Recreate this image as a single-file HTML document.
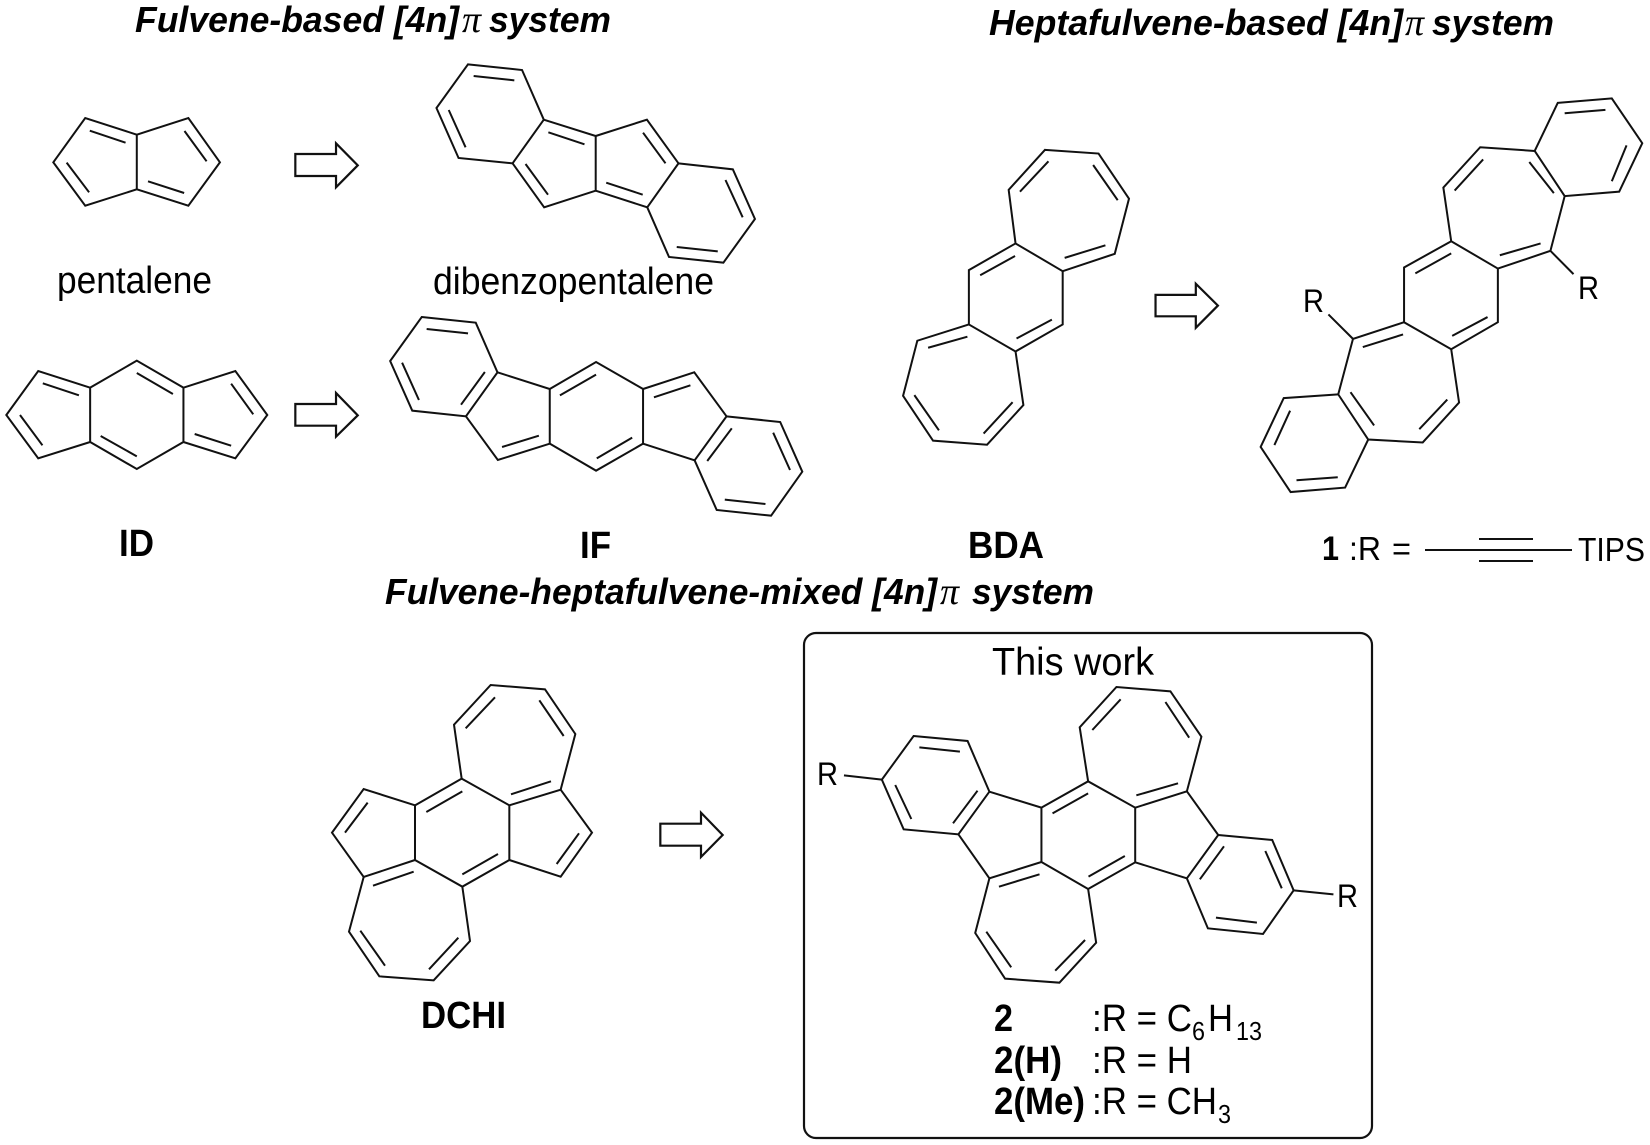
<!DOCTYPE html>
<html><head><meta charset="utf-8"><style>
html,body{margin:0;padding:0;background:#fff}
svg{display:block}
.m path{fill:none;stroke:#111;stroke-width:2;vector-effect:non-scaling-stroke;stroke-linejoin:miter}
.a path{fill:#fff;stroke:#111;stroke-width:2.2;vector-effect:non-scaling-stroke}
text{font-family:"Liberation Sans",sans-serif;fill:#000}
.t{font-weight:bold;font-style:italic;font-size:36px}
.p{font-family:"Liberation Serif","DejaVu Serif",serif;font-style:italic;font-size:38px}
.l{font-size:38px}
.b{font-size:38px;font-weight:bold}
.r{font-size:32px}
.s{font-size:26px}
</style></head><body>
<svg width="1650" height="1145" viewBox="0 0 1650 1145" xmlns="http://www.w3.org/2000/svg">
<rect width="1650" height="1145" fill="#fff"/>

<!-- Titles -->
<text class="t" x="135" y="32" textLength="324" lengthAdjust="spacingAndGlyphs">Fulvene-based [4n]</text>
<text class="p" x="462" y="32">π</text>
<text class="t" x="489" y="32" textLength="122" lengthAdjust="spacingAndGlyphs">system</text>
<text class="t" x="989" y="35" textLength="414" lengthAdjust="spacingAndGlyphs">Heptafulvene-based [4n]</text>
<text class="p" x="1405" y="35">π</text>
<text class="t" x="1432" y="35" textLength="122" lengthAdjust="spacingAndGlyphs">system</text>
<text class="t" x="385" y="604" textLength="552" lengthAdjust="spacingAndGlyphs">Fulvene-heptafulvene-mixed [4n]</text>
<text class="p" x="940" y="604">π</text>
<text class="t" x="972" y="604" textLength="122" lengthAdjust="spacingAndGlyphs">system</text>

<!-- pentalene + arrow -->
<g class="m" transform="translate(0,0) scale(0.35075,0.33333)">
<path d="M152 487L243 354L390 404L537 354L627 487L537 617L390 568L243 617ZM390 404L390 568M256 392L358 428M190 488L254 577M526 393L589 484M422 544L525 579"/>
</g>
<g class="a" transform="translate(0,0) scale(0.35075,0.33333)">
<path d="M842 462L958 462L958 430L1020 496L958 562L958 528L842 528Z"/>
</g>

<!-- dibenzopentalene -->
<g class="m" transform="translate(360,0) scale(0.35075,0.33333)">
<path d="M308 193L462 210L524 359L435 490L281 474L218 324ZM324 228L440 241M253 330L301 442"/>
<path d="M524 359L672 408L672 572L525 622L435 490M537 397L640 433M472 492L536 584"/>
<path d="M672 408L818 359L908 490L819 622L672 572M807 398L871 490M702 548L806 584"/>
<path d="M908 490L1063 508L1126 657L1036 788L881 771L819 622M1042 540L1091 652M903 741L1020 754"/>
</g>

<!-- ID + arrow -->
<g class="m" transform="translate(0,300) scale(0.35075,0.33333)">
<path d="M18 345L109 213L257 263L390 182L523 263L671 213L762 345L671 475L523 426L390 507L257 426L109 475ZM257 263L257 426M523 263L523 426"/>
<path d="M122 250L225 286M57 345L121 436M390 219L493 282M287 408L390 469M659 251L722 343M555 402L659 437"/>
</g>
<g class="a" transform="translate(0,300) scale(0.35075,0.33333)">
<path d="M842 312L958 312L958 279L1020 346L958 410L958 377L842 377Z"/>
</g>

<!-- IF -->
<g class="m" transform="translate(360,300) scale(0.35075,0.33333)">
<path d="M176 51L330 68L392 217L302 349L149 332L86 183ZM190 87L308 100M120 188L168 300M356 216L288 314"/>
<path d="M392 217L541 267L541 431L393 480L302 349M405 441L510 407"/>
<path d="M541 267L673 186L807 267L807 431L673 512L541 431M570 286L673 224M675 475L776 413"/>
<path d="M807 267L953 217L1045 349L954 481L807 431M838 292L942 256"/>
<path d="M1045 349L1198 366L1261 515L1172 647L1017 630L954 481M1060 385L990 483M1178 398L1226 510M1040 599L1156 612"/>
</g>

<!-- BDA, arrow, compound 1 -->
<g class="m" transform="translate(879,0) scale(0.49115,0.36996)">
<path d="M338 405L447 415L509 537L480 686L374 733L278 658L264 513ZM287 518L345 436M436 446L486 541M378 697L461 663"/>
<path d="M278 658L183 730L183 877L278 950L374 877L374 733M206 744L277 692M280 915L352 864"/>
<path d="M183 877L78 921L49 1070L110 1191L220 1202L294 1095L278 950M100 940L180 910M213 1172L272 1087M72 1068L122 1163"/>
</g>
<g class="m" transform="translate(880,0) scale(0.49115,0.36996)">
<path d="M1380 278L1490 266L1552 387L1505 518L1394 530L1333 408ZM1394 306L1477 297M1520 393L1490 490M1322 438L1372 522"/>
<path d="M1333 408L1222 398L1147 507L1163 652L1258 726L1365 678L1394 530M1170 515L1228 431M1262 690L1345 658"/>
<path d="M1163 652L1067 723L1067 871L1163 944L1258 871L1258 726M1090 739L1163 685M1165 908L1237 857"/>
<path d="M1067 871L963 916L933 1066L994 1188L1105 1196L1179 1088L1163 944M983 938L1065 904M1098 1160L1155 1080"/>
<path d="M933 1066L822 1076L775 1208L836 1330L947 1318L994 1188M958 1060L1006 1150M803 1203L835 1110M848 1298L932 1290"/>
<path d="M1365 678L1412 741M963 916L913 850"/>
</g>
<g class="a" transform="translate(880,0) scale(0.49115,0.36996)">
<path d="M561 797L643 797L643 767L688 826L643 886L643 855L561 855Z"/>
</g>

<!-- DCHI + arrow -->
<g class="m" transform="translate(299,640) scale(0.33333)">
<path d="M488 416L631 496L785 449L829 282L738 148L575 135L465 254ZM500 265L588 172M721 181L794 288M636 463L756 424"/>
<path d="M348 496L488 416M631 496L631 660L490 740L348 660L348 496M382 516L490 454M490 703L597 642"/>
<path d="M785 449L879 578L785 710L631 660M840 580L773 672"/>
<path d="M348 496L194 447L99 578L194 711L348 660M206 488L138 578M222 737L344 695"/>
<path d="M194 711L150 875L241 1009L404 1021L513 903L490 740M184 872L258 977M390 988L478 893"/>
</g>
<g class="a" transform="translate(300,640) scale(0.33333)">
<path d="M1081 551L1203 551L1203 518L1268 585L1203 651L1203 617L1081 617Z"/>
</g>

<!-- This work box -->
<rect x="804" y="633" width="568" height="505" rx="12" ry="12" fill="none" stroke="#111" stroke-width="2.2"/>

<!-- compound 2 -->
<g class="m" transform="translate(790,620) scale(0.3827,0.33333)">
<path d="M323 348L464 363L521 515L440 643L297 628L240 479ZM338 382L444 395M275 495L317 597M490 512L426 610"/>
<path d="M521 515L657 563L657 726L521 775L440 643"/>
<path d="M657 563L779 484L902 563L902 727L779 807L657 726M686 580L779 520M780 770L875 708"/>
<path d="M779 484L757 322L853 201L994 214L1075 350L1037 514L902 563M790 330L864 238M981 246L1043 353M905 526L1014 490"/>
<path d="M1037 514L1119 645L1037 775L902 727"/>
<path d="M1119 645L1260 660L1316 811L1236 942L1092 925L1037 775M1134 679L1071 778M1242 693L1285 805M1113 893L1220 908"/>
<path d="M521 775L484 939L562 1076L704 1088L800 968L779 807M546 800L652 763M513 935L578 1042M693 1052L771 960"/>
<path d="M240 479L141 466M1316 811L1420 823"/>
</g>

<!-- triple bond -->
<g class="m">
<path d="M1425 550L1572 550M1479 539L1533 539M1479 561L1533 561"/>
</g>

<!-- labels -->
<text class="l" x="57" y="293" textLength="155" lengthAdjust="spacingAndGlyphs">pentalene</text>
<text class="l" x="433" y="294" textLength="281" lengthAdjust="spacingAndGlyphs">dibenzopentalene</text>
<text class="b" x="119" y="556" textLength="35" lengthAdjust="spacingAndGlyphs">ID</text>
<text class="b" x="580" y="558" textLength="31" lengthAdjust="spacingAndGlyphs">IF</text>
<text class="b" x="968" y="558" textLength="76" lengthAdjust="spacingAndGlyphs">BDA</text>
<text class="b" x="421" y="1028" textLength="85" lengthAdjust="spacingAndGlyphs">DCHI</text>
<text class="l" x="992" y="675" textLength="162" lengthAdjust="spacingAndGlyphs" style="font-size:39px">This work</text>

<text class="r" x="1578" y="299" textLength="21" lengthAdjust="spacingAndGlyphs">R</text>
<text class="r" x="1303" y="312" textLength="21" lengthAdjust="spacingAndGlyphs">R</text>
<text class="r" x="817" y="785" textLength="21" lengthAdjust="spacingAndGlyphs">R</text>
<text class="r" x="1337" y="907" textLength="21" lengthAdjust="spacingAndGlyphs">R</text>

<text class="b" x="1322" y="560" textLength="17" lengthAdjust="spacingAndGlyphs" style="font-size:34px">1</text>
<text class="r" x="1349" y="560" textLength="32" lengthAdjust="spacingAndGlyphs" style="font-size:33px">:R</text>
<text class="r" x="1392" y="560" textLength="19" lengthAdjust="spacingAndGlyphs" style="font-size:33px">=</text>
<text class="r" x="1578" y="561" textLength="67" lengthAdjust="spacingAndGlyphs" style="font-size:33px">TIPS</text>

<text class="b" x="994" y="1031" textLength="19" lengthAdjust="spacingAndGlyphs">2</text>
<text class="l" x="1092" y="1031" textLength="100" lengthAdjust="spacingAndGlyphs">:R = C</text>
<text class="s" x="1192" y="1040" textLength="13" lengthAdjust="spacingAndGlyphs">6</text>
<text class="l" x="1208" y="1031" textLength="25" lengthAdjust="spacingAndGlyphs">H</text>
<text class="s" x="1236" y="1040" textLength="26" lengthAdjust="spacingAndGlyphs">13</text>

<text class="b" x="994" y="1073" textLength="68" lengthAdjust="spacingAndGlyphs">2(H)</text>
<text class="l" x="1092" y="1073" textLength="100" lengthAdjust="spacingAndGlyphs">:R = H</text>

<text class="b" x="994" y="1114" textLength="91" lengthAdjust="spacingAndGlyphs">2(Me)</text>
<text class="l" x="1092" y="1114" textLength="125" lengthAdjust="spacingAndGlyphs">:R = CH</text>
<text class="s" x="1218" y="1123" textLength="13" lengthAdjust="spacingAndGlyphs">3</text>
</svg>
</body></html>
